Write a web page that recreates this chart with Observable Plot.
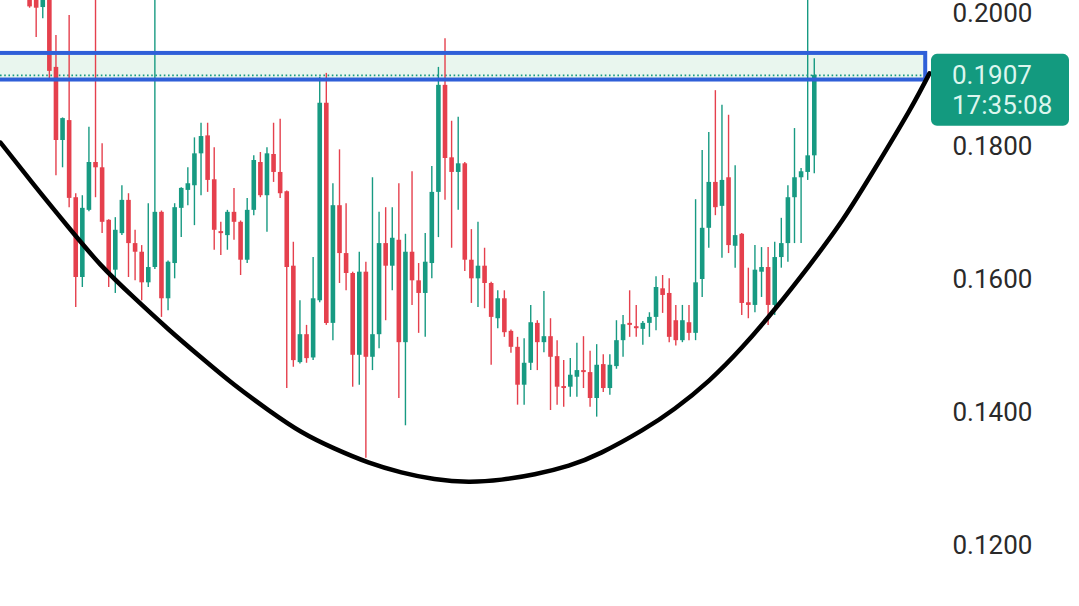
<!DOCTYPE html>
<html><head><meta charset="utf-8">
<script src="https://cdn.jsdelivr.net/npm/d3@7"></script>
<script src="https://cdn.jsdelivr.net/npm/@observablehq/plot@0.6"></script>
<style>html,body{margin:0;padding:0;background:#fff;overflow:hidden;} #chart svg{display:block;}</style>
</head><body><div id="chart"></div>
<script>
// ---- candle data (one entry per bar, left to right) ----
const open = [.2022,.2025,.2009,.2035,.1919,.1809,.1839,.1723,.1603,.1704, .1776,.1768,.1689,.1614,.1669,.1719,.1654,.1641,.1595,.1618, .1701,.1571,.1624,.1707,.1734,.1741,.1789,.1816,.1750,.1672, .1666,.1701,.1686,.1629,.1704,.1776,.1726,.1788,.1761,.1732, .1620,.1475,.1517,.1482,.1568,.1865,.1534,.1711,.1639,.1609, .1486,.1611,.1483,.1517,.1654,.1620,.1659,.1505,.1641,.1598, .1579,.1624,.1731,.1892,.1783,.1761,.1774,.1629,.1601,.1620, .1594,.1541,.1571,.1522,.1498,.1441,.1474,.1534,.1505,.1514, .1484,.1439,.1438,.1453,.1463,.1460,.1421,.1472,.1436,.1469, .1508,.1534,.1529,.1525,.1534,.1543,.1586,.1579,.1538,.1508, .1535,.1519,.1600,.1677,.1746,.1710,.1753,.1650,.1668,.1565, .1561,.1611,.1618,.1561,.1633,.1654,.1723,.1753,.1761,.1786];
const high = [.2030,.2035,.2030,.2045,.1967,.1843,.1997,.1729,.1726,.1829, .2030,.1804,.1690,.1693,.1741,.1729,.1674,.1651,.1714,.2030, .1703,.1628,.1714,.1738,.1768,.1813,.1835,.1835,.1798,.1686, .1704,.1737,.1688,.1722,.1786,.1791,.1798,.1835,.1841,.1733, .1656,.1568,.1531,.1633,.1904,.1910,.1744,.1795,.1714,.1611, .1641,.1626,.1753,.1701,.1708,.1708,.1744,.1668,.1762,.1624, .1669,.1770,.1919,.1962,.1838,.1844,.1776,.1675,.1686,.1647, .1596,.1583,.1583,.1524,.1513,.1511,.1561,.1538,.1582,.1541, .1508,.1478,.1481,.1504,.1514,.1492,.1502,.1487,.1487,.1538, .1546,.1583,.1561,.1537,.1550,.1604,.1606,.1601,.1561,.1561, .1561,.1720,.1794,.1821,.1884,.1862,.1847,.1771,.1669,.1617, .1651,.1648,.1648,.1656,.1692,.1741,.1827,.1767,.2030,.1932];
const low = [.2008,.1964,.1992,.1899,.1756,.1768,.1708,.1558,.1588,.1702, .1723,.1669,.1588,.1579,.1666,.1603,.1598,.1568,.1588,.1615, .1543,.1553,.1601,.1663,.1711,.1681,.1726,.1731,.1644,.1636, .1644,.1659,.1606,.1624,.1696,.1723,.1671,.1746,.1722,.1436, .1468,.1473,.1474,.1478,.1565,.1531,.1508,.1594,.1583,.1438, .1441,.1331,.1463,.1496,.1538,.1583,.1421,.1380,.1561,.1519, .1513,.1601,.1663,.1719,.1647,.1704,.1612,.1564,.1558,.1556, .1471,.1526,.1513,.1489,.1411,.1411,.1463,.1463,.1490,.1403, .1411,.1408,.1423,.1423,.1436,.1408,.1393,.1430,.1426,.1465, .1483,.1513,.1513,.1501,.1513,.1523,.1549,.1505,.1500,.1505, .1508,.1508,.1573,.1647,.1696,.1632,.1639,.1617,.1546,.1541, .1550,.1573,.1531,.1546,.1617,.1626,.1654,.1654,.1749,.1759];
const close = [.2010,.2008,.2022,.1913,.1809,.1842,.1722,.1603,.1707,.1776, .1768,.1686,.1609,.1674,.1719,.1654,.1641,.1595,.1618,.1701, .1571,.1626,.1708,.1737,.1744,.1789,.1815,.1749,.1674,.1669, .1701,.1686,.1629,.1704,.1779,.1726,.1789,.1761,.1729,.1618, .1478,.1517,.1481,.1571,.1865,.1534,.1711,.1639,.1609,.1486, .1611,.1483,.1517,.1654,.1620,.1662,.1505,.1641,.1598,.1579, .1626,.1731,.1892,.1782,.1761,.1774,.1629,.1601,.1620,.1594, .1543,.1571,.1520,.1498,.1441,.1474,.1535,.1505,.1514,.1483, .1438,.1436,.1456,.1463,.1460,.1421,.1471,.1436,.1471,.1508, .1532,.1531,.1526,.1534,.1543,.1588,.1576,.1513,.1508,.1538, .1519,.1595,.1677,.1746,.1708,.1749,.1651,.1666,.1564,.1561, .1614,.1618,.1561,.1633,.1654,.1723,.1753,.1762,.1786,.1907];

// ---- cup curve (bar index, price) ----
const cupIdx   = [-4.41, 0.61, 5.78, 10.79, 15.81, 20.97, 25.99, 31.00, 36.17, 41.19, 46.20, 51.37, 56.38, 61.40, 66.57, 71.58, 76.60, 81.76, 86.78, 92.86, 97.87, 103.04, 108.05, 113.07, 118.24, 123.25, 128.27, 133.43, 136.47];
const cupPrice = [.1806, .1743, .1680, .1622, .1573, .1526, .1483, .1442, .1404, .1371, .1346, .1325, .1310, .1300, .1296, .1299, .1307, .1320, .1340, .1373, .1406, .1448, .1498, .1556, .1621, .1689, .1768, .1854, .1910];

// ---- resistance zone & last price ----
const zoneStart = -8, zoneEnd = 135.9;
const zoneBottom = 0.1900, zoneTop = 0.1940;
const lastPrice = 0.1907;
const lastTime = "17:35:08";
const yTicks = [0.12, 0.14, 0.16, 0.18, 0.20];
const xDomain = [-4.41, 136.17];
const yDomain = [0.11082, 0.20196];

const UP = "#179a82", DOWN = "#e5404d", ZONE = "#2f5fd8", LABEL = "#139a7f";

const candles = open.map((o, i) => ({i, open: o, high: high[i], low: low[i], close: close[i]}));
const cup = cupIdx.map((x, k) => ({x, y: cupPrice[k]}));
const zone = [{x1: zoneStart, x2: zoneEnd, y1: zoneBottom, y2: zoneTop}];
const up = d => d.close >= d.open, down = d => d.close < d.open;

const priceLabel = (index, scales, values, dimensions) => {
  const y = scales.y(lastPrice);
  const x0 = dimensions.width - dimensions.marginRight + 4;
  const g = d3.create("svg:g");
  g.append("rect").attr("x", x0).attr("y", y - 21).attr("width", 138).attr("height", 72)
    .attr("rx", 6).attr("fill", LABEL);
  const t = g.append("g").attr("text-anchor", "start").attr("fill", "#dcf6ee")
    .attr("font-family", "Roboto").attr("font-size", 26);
  t.append("text").attr("x", x0 + 21).attr("y", y).attr("dy", "0.35em").text(lastPrice.toFixed(4));
  t.append("text").attr("x", x0 + 21).attr("y", y + 30).attr("dy", "0.35em").text(lastTime);
  return g.node();
};

const chart = Plot.plot({
  width: 1079, height: 606,
  marginLeft: 0, marginRight: 152, marginTop: 0, marginBottom: 0,
  style: {fontFamily: "Roboto", background: "#fff"},
  x: {domain: xDomain, axis: null},
  y: {domain: yDomain, axis: null},
  marks: [
    Plot.rect(zone, {x1: "x1", x2: "x2", y1: "y1", y2: "y2", fill: "#e9f6ee"}),
    Plot.ruleY([lastPrice], {stroke: UP, strokeWidth: 1.6, strokeDasharray: "1.6,2.6"}),
    Plot.ruleX(candles, {filter: up, x: "i", y1: "low", y2: "high", stroke: UP, strokeWidth: 1.4}),
    Plot.ruleX(candles, {filter: down, x: "i", y1: "low", y2: "high", stroke: DOWN, strokeWidth: 1.4}),
    Plot.ruleX(candles, {filter: up, x: "i", y1: "open", y2: "close", stroke: UP, strokeWidth: 4.6}),
    Plot.ruleX(candles, {filter: down, x: "i", y1: "open", y2: "close", stroke: DOWN, strokeWidth: 4.6}),
    Plot.rect(zone, {x1: "x1", x2: "x2", y1: "y1", y2: "y2", fill: "none", stroke: ZONE, strokeWidth: 4}),
    Plot.line(cup, {x: "x", y: "y", curve: "natural", stroke: "#000", strokeWidth: 4.5}),
    Plot.axisY(yTicks, {anchor: "right", tickSize: 0, tickPadding: 25, tickFormat: d3.format(".4f"),
      fontSize: 26, fill: "#2a2a2a", label: null}),
    priceLabel
  ]
});
document.getElementById("chart").appendChild(chart);
</script>
</body></html>
